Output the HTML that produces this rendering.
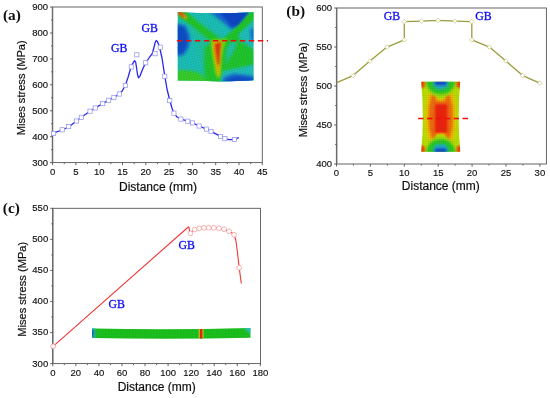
<!DOCTYPE html>
<html><head><meta charset="utf-8"><title>Mises stress</title>
<style>
html,body{margin:0;padding:0;background:#fff;}
svg{display:block}
.t{font-family:"Liberation Sans",sans-serif;font-size:9.5px;fill:#111;stroke:#111;stroke-width:0.15px}
.l{font-family:"Liberation Sans",sans-serif;font-size:12px;fill:#111;stroke:#111;stroke-width:0.2px}
.p{font-family:"Liberation Serif",serif;font-size:15.3px;font-weight:bold;fill:#111}
.g{font-family:"Liberation Serif",serif;font-size:11.8px;fill:#0c0cf4;stroke:#0c0cf4;stroke-width:0.3px}
.ly{font-size:11.1px}
</style></head><body>
<svg width="550" height="398" viewBox="0 0 550 398">
<defs>
<filter id="b1" x="-20%" y="-20%" width="140%" height="140%"><feGaussianBlur stdDeviation="1.6"/></filter>
<filter id="b2" x="-20%" y="-20%" width="140%" height="140%"><feGaussianBlur stdDeviation="0.9"/></filter>
<filter id="b3" x="-20%" y="-20%" width="140%" height="140%"><feGaussianBlur stdDeviation="2.4"/></filter>
<filter id="soft"><feGaussianBlur stdDeviation="0.35"/></filter>
<clipPath id="ca"><path d="M177.8 12 Q215 14.4 253.4 12.2 L253.4 80.2 Q238 81.2 220 81.4 Q198 80.6 177.8 80.6 Z"/></clipPath>
<clipPath id="cb"><path d="M421.3 81.8 L460.2 81.8 Q457.2 117 460.2 151.7 L421.3 151.7 Q424.3 117 421.3 81.8 Z"/></clipPath>
<clipPath id="cc"><path d="M92 328.6 Q170 330.2 250.4 328.1 L250.4 337.7 Q170 339.8 92 338 Z"/></clipPath>
<pattern id="mesh" width="1.6" height="1.6" patternUnits="userSpaceOnUse" patternTransform="rotate(8)"><path d="M0 0H1.6M0 0V1.6" stroke="#0a5a3a" stroke-width="0.35" fill="none"/></pattern>
<pattern id="mesh2" width="2.2" height="2.2" patternUnits="userSpaceOnUse" x="421.3" y="81.8"><path d="M0 0H2.2M0 0V2.2" stroke="#7a5a10" stroke-width="0.4" fill="none"/></pattern>
<pattern id="mesh3" width="1.5" height="1.5" patternUnits="userSpaceOnUse"><path d="M0 0H1.5M0 0V1.5" stroke="#0a6a1a" stroke-width="0.35" fill="none"/></pattern>
</defs>
<rect width="550" height="398" fill="#fff"/>

<!-- panel a -->
<g filter="url(#soft)">
<rect x="52.6" y="7" width="209.7" height="155.6" fill="none" stroke="#555" stroke-width="0.9"/>
<path d="M52.5 7V162.6" fill="none" stroke="#6c6c6c" stroke-width="1.4"/>
<path d="M52.6 162.6v2.6M75.9 162.6v2.6M99.2 162.6v2.6M122.5 162.6v2.6M145.8 162.6v2.6M169.1 162.6v2.6M192.4 162.6v2.6M215.7 162.6v2.6M239 162.6v2.6M262.3 162.6v2.6M64.25 162.6v1.5M87.55 162.6v1.5M110.85 162.6v1.5M134.15 162.6v1.5M157.45 162.6v1.5M180.75 162.6v1.5M204.05 162.6v1.5M227.35 162.6v1.5M250.65 162.6v1.5M52.6 162.6h-2.6M52.6 136.68h-2.6M52.6 110.76h-2.6M52.6 84.84h-2.6M52.6 58.92h-2.6M52.6 33h-2.6M52.6 7.08h-2.6M52.6 149.64h-1.5M52.6 123.72h-1.5M52.6 97.8h-1.5M52.6 71.88h-1.5M52.6 45.96h-1.5M52.6 20.04h-1.5" stroke="#555" stroke-width="0.9" fill="none"/>
<text class="t" transform="translate(52.6 174.9) scale(1 1)" text-anchor="middle">0</text>
<text class="t" transform="translate(75.9 174.9) scale(1 1)" text-anchor="middle">5</text>
<text class="t" transform="translate(99.2 174.9) scale(1 1)" text-anchor="middle">10</text>
<text class="t" transform="translate(122.5 174.9) scale(1 1)" text-anchor="middle">15</text>
<text class="t" transform="translate(145.8 174.9) scale(1 1)" text-anchor="middle">20</text>
<text class="t" transform="translate(169.1 174.9) scale(1 1)" text-anchor="middle">25</text>
<text class="t" transform="translate(192.4 174.9) scale(1 1)" text-anchor="middle">30</text>
<text class="t" transform="translate(215.7 174.9) scale(1 1)" text-anchor="middle">35</text>
<text class="t" transform="translate(239 174.9) scale(1 1)" text-anchor="middle">40</text>
<text class="t" transform="translate(262.3 174.9) scale(1 1)" text-anchor="middle">45</text>
<text class="t" transform="translate(48 165.5) scale(1 1)" text-anchor="end">300</text>
<text class="t" transform="translate(48 139.58) scale(1 1)" text-anchor="end">400</text>
<text class="t" transform="translate(48 113.66) scale(1 1)" text-anchor="end">500</text>
<text class="t" transform="translate(48 87.74) scale(1 1)" text-anchor="end">600</text>
<text class="t" transform="translate(48 61.82) scale(1 1)" text-anchor="end">700</text>
<text class="t" transform="translate(48 35.9) scale(1 1)" text-anchor="end">800</text>
<text class="t" transform="translate(48 9.98) scale(1 1)" text-anchor="end">900</text>
<text class="l" transform="translate(158 190.5) scale(1 1)" text-anchor="middle">Distance (mm)</text>
<text class="l ly" transform="translate(24.5 87.75) scale(1 1) rotate(-90)" text-anchor="middle">Mises stress (MPa)</text>
<text class="p" transform="translate(3 20) scale(1 1)">(a)</text>
</g>
<g clip-path="url(#ca)">
<rect x="176" y="10" width="80" height="74" fill="#20c8a8"/>
<g filter="url(#b1)">
<path d="M175.91 9.91L183.55 9.91L202.64 26.14L219.82 39.5L225.55 39.5L238.91 27.09L256.09 9.91L256.09 23.27L245.59 30.91L249.41 46.18L256.09 51.91L256.09 65.27L237 69.09L223.64 71L221.73 84.37L205.5 84.37L204.16 65.27L204.55 48.09L211.23 41.41L193.09 26.14L175.91 13.73Z" fill="#22cc2c"/>
<path d="M175.91 70.05L189.27 70.05L200.73 73.86L209.32 84.37L175.91 84.37Z" fill="#3ad428"/>
<path d="M231.27 53.82L242.73 49.05L256.09 49.05L256.09 63.36L240.82 65.27L229.36 65.27Z" fill="#22cc2c"/>
</g>
<g filter="url(#b1)">
<path d="M185.45 9.91L258 9.91L250.37 15.64L238.91 28.05L231.27 32.82L222.68 36.64L215.05 30.91L204.55 23.27Z" fill="#1ec4c0"/>
<path d="M175.91 17.55L189.27 25.18L195.95 38.55L198.82 53.82L202.64 71L189.27 69.09L175.91 69.09Z" fill="#1ec4c0"/>
<path d="M237.96 33.77L256.09 17.55L256.09 49.05L249.41 46.18L240.82 41.41Z" fill="#20c4c4"/>
<path d="M222.68 71.96L237 68.71L256.09 64.32L256.09 84.37L219.82 84.37Z" fill="#20c4c4"/>
<path d="M226.5 49.05L231.27 42.36L237 40.46L235.09 49.05L229.36 57.64L225.55 65.27Z" fill="#22c8b0"/>
</g>
<g filter="url(#b1)">
<path d="M207.41 10.86L250.37 10.86L247.5 16.59L239.86 26.14L231.27 29.38L224.02 23.27L215.05 16.02Z" fill="#1464dc"/>
<path d="M175.91 23.27L185.45 25.18L190.23 36.64L188.51 48.09L183.55 55.35L175.91 56.68Z" fill="#1464dc"/>
<path d="M221.73 84.37L224.02 77.11L233.18 73.86L244.64 74.82L256.09 76.73L256.09 84.37Z" fill="#1464dc"/>
<path d="M249.98 29.38L256.09 27.09L256.09 41.41L250.75 40.07Z" fill="#1470dc"/>
</g>
<g filter="url(#b2)">
<path d="M218.86 11.82L248.46 11.82L244.64 17.55L237.96 25.18L231.85 26.71L227.07 20.6Z" fill="#0c40d0"/>
<path d="M176.67 26.14L183.93 27.47L187.36 36.64L185.84 47.14L181.64 53.06L176.67 53.82Z" fill="#0c48d0"/>
<path d="M226.5 83.41L228.41 79.02L237 76.73L250.37 78.26L255.14 83.41Z" fill="#0c48d0"/>
</g>
<g filter="url(#b2)">
<path d="M176.29 10.29L182.78 10.29L198.82 24.04L220.77 40.07L216 42.75L195.38 27.09L176.29 14.87Z" fill="#24cc24"/>
<path d="M256.09 10.29L251.89 10.29L238.91 24.8L224.02 38.55L228.41 41.98L240.82 30.53L256.09 15.64Z" fill="#24cc24"/>
<path d="M210.66 40.07L227.07 38.93L224.02 46.18L221.73 57.64L220.77 73.86L218.29 79.02L215.05 72.91L212.18 55.73Z" fill="#86e000"/>
</g>
<g filter="url(#b2)">
<path d="M212.18 41.98L221.73 40.46L220.96 49.05L220.2 65.27L219.44 77.87L217.53 73.86L214.28 58.02Z" fill="#f4b400"/>
<path d="M177.82 11.44L181.64 11.44L188.13 17.55L185.45 19.45L177.82 14.11Z" fill="#f0a010"/>
</g>
<g filter="url(#b2)" >
<path d="M214.86 44.27L220.96 41.98L219.82 52.29L219.06 66.23L217.72 63.75L216 54.2Z" fill="#f02c0c"/>
<path d="M177.82 11.44L180.49 11.44L184.69 15.64L182.78 16.78L177.82 12.96Z" fill="#f03808"/>
</g>
<rect x="176" y="10" width="80" height="74" fill="url(#mesh)" opacity="0.55"/>
</g>
<path d="M176.9 40.8 H268" stroke="#f60808" stroke-width="1.5" stroke-dasharray="5.4 3.6" fill="none"/>
<path d="M52.6 133.4 L62 130 L68.7 127 L76.5 121 L81.3 117.3 L90 111.2 L95.2 108 L102.7 103.6 L108.7 100.3 L113.9 97.4 L119.3 94 L122.5 90.5 L125.3 85.4 L128 77.5 L131 67 L133.2 62.6 L134.6 60.6 L135.8 62.8 L136.8 69.5 L137.6 75 L138.5 77.8 L139.8 76.5 L142.5 69.5 L145.5 63 L149 58 L152.3 53.5 L153.8 48 L155.2 42.5 L156.2 40.5 L157.4 41.5 L159.4 46.5 L162 58 L164.8 76.2 L167 89 L169.7 100 L171.8 107.5 L173.9 113.2 L177 117 L180.9 119.1 L187.8 121.2 L192.5 122.9 L199.1 126 L206.4 129.1 L211 131.4 L220.6 136.4 L224.9 138.7 L229 139.7 L234.5 139.5 L238.8 137.6" fill="none" stroke="#2828f0" stroke-width="1.3" stroke-linejoin="round"/>
<g fill="#fff" stroke="#8f8ff0" stroke-width="0.7">
<rect x="51.5" y="131.3" width="4.2" height="4.2"/>
<rect x="60.1" y="127.7" width="4.2" height="4.2"/>
<rect x="66.6" y="124.5" width="4.2" height="4.2"/>
<rect x="74.4" y="118.9" width="4.2" height="4.2"/>
<rect x="79.2" y="115.2" width="4.2" height="4.2"/>
<rect x="87.9" y="109.1" width="4.2" height="4.2"/>
<rect x="93.1" y="105.9" width="4.2" height="4.2"/>
<rect x="100.6" y="101.5" width="4.2" height="4.2"/>
<rect x="106.6" y="98.2" width="4.2" height="4.2"/>
<rect x="111.8" y="95.3" width="4.2" height="4.2"/>
<rect x="117.2" y="91.9" width="4.2" height="4.2"/>
<rect x="123.2" y="83.3" width="4.2" height="4.2"/>
<rect x="129.2" y="64.8" width="4.2" height="4.2"/>
<rect x="134.7" y="52.7" width="4.2" height="4.2"/>
<rect x="143.6" y="60.7" width="4.2" height="4.2"/>
<rect x="152.9" y="51.6" width="4.2" height="4.2"/>
<rect x="158.1" y="45.1" width="4.2" height="4.2"/>
<rect x="162.7" y="74.1" width="4.2" height="4.2"/>
<rect x="167.6" y="98.5" width="4.2" height="4.2"/>
<rect x="171.8" y="111.1" width="4.2" height="4.2"/>
<rect x="178.8" y="117" width="4.2" height="4.2"/>
<rect x="185.7" y="119.1" width="4.2" height="4.2"/>
<rect x="190.4" y="120.8" width="4.2" height="4.2"/>
<rect x="197" y="123.9" width="4.2" height="4.2"/>
<rect x="204.3" y="127" width="4.2" height="4.2"/>
<rect x="208.9" y="129.3" width="4.2" height="4.2"/>
<rect x="218.5" y="134.3" width="4.2" height="4.2"/>
<rect x="222.8" y="136.6" width="4.2" height="4.2"/>
<rect x="232.4" y="137.4" width="4.2" height="4.2"/>
</g>
<text class="g" transform="translate(111 52.4) scale(1 1)">GB</text>
<text class="g" transform="translate(141.4 31.7) scale(1 1)">GB</text>
<!-- panel b -->
<g filter="url(#soft)">
<rect x="336.7" y="8" width="209.7" height="156" fill="none" stroke="#555" stroke-width="0.9"/>
<path d="M336.6 8V164" fill="none" stroke="#6c6c6c" stroke-width="1.4"/>
<path d="M336.5 164v2.6M370.4 164v2.6M404.3 164v2.6M438.2 164v2.6M472.1 164v2.6M506 164v2.6M539.9 164v2.6M353.45 164v1.5M387.35 164v1.5M421.25 164v1.5M455.15 164v1.5M489.05 164v1.5M522.95 164v1.5M336.7 164h-2.6M336.7 125h-2.6M336.7 86h-2.6M336.7 47h-2.6M336.7 8h-2.6M336.7 144.5h-1.5M336.7 105.5h-1.5M336.7 66.5h-1.5M336.7 27.5h-1.5" stroke="#555" stroke-width="0.9" fill="none"/>
<text class="t" transform="translate(336.5 176.3) scale(1 1)" text-anchor="middle">0</text>
<text class="t" transform="translate(370.4 176.3) scale(1 1)" text-anchor="middle">5</text>
<text class="t" transform="translate(404.3 176.3) scale(1 1)" text-anchor="middle">10</text>
<text class="t" transform="translate(438.2 176.3) scale(1 1)" text-anchor="middle">15</text>
<text class="t" transform="translate(472.1 176.3) scale(1 1)" text-anchor="middle">20</text>
<text class="t" transform="translate(506 176.3) scale(1 1)" text-anchor="middle">25</text>
<text class="t" transform="translate(539.9 176.3) scale(1 1)" text-anchor="middle">30</text>
<text class="t" transform="translate(332.1 166.9) scale(1 1)" text-anchor="end">400</text>
<text class="t" transform="translate(332.1 127.9) scale(1 1)" text-anchor="end">450</text>
<text class="t" transform="translate(332.1 88.9) scale(1 1)" text-anchor="end">500</text>
<text class="t" transform="translate(332.1 49.9) scale(1 1)" text-anchor="end">550</text>
<text class="t" transform="translate(332.1 10.9) scale(1 1)" text-anchor="end">600</text>
<text class="l" transform="translate(440.8 189.8) scale(1 1)" text-anchor="middle">Distance (mm)</text>
<text class="l ly" transform="translate(307.3 89.8) scale(1 1) rotate(-90)" text-anchor="middle">Mises stress (MPa)</text>
<text class="p" transform="translate(286.3 15.9) scale(1 1)">(b)</text>
</g>
<path d="M336.8 82.7 L353.1 75.6 L369.9 61.1 L387 47.1 L404.3 39.9 L404.3 21.6 L421.5 21.1 L438 20.4 L455 21.1 L471.8 21.6 L471.8 39.9 L489.4 47.1 L505.9 61.1 L522.7 75.6 L539.8 83.2" fill="none" stroke="#9c9c3c" stroke-width="1.3" stroke-linejoin="round"/>
<g fill="#fff" stroke="#c4c480" stroke-width="0.7">
<path d="M350.8 75.6L353.1 73.3L355.4 75.6L353.1 77.9Z"/>
<path d="M367.6 61.1L369.9 58.8L372.2 61.1L369.9 63.4Z"/>
<path d="M384.7 47.1L387 44.8L389.3 47.1L387 49.4Z"/>
<path d="M402 39.9L404.3 37.6L406.6 39.9L404.3 42.2Z"/>
<path d="M402 21.6L404.3 19.3L406.6 21.6L404.3 23.9Z"/>
<path d="M419.2 21.1L421.5 18.8L423.8 21.1L421.5 23.4Z"/>
<path d="M435.7 20.4L438 18.1L440.3 20.4L438 22.7Z"/>
<path d="M452.7 21.1L455 18.8L457.3 21.1L455 23.4Z"/>
<path d="M469.5 21.6L471.8 19.3L474.1 21.6L471.8 23.9Z"/>
<path d="M469.5 39.9L471.8 37.6L474.1 39.9L471.8 42.2Z"/>
<path d="M487.1 47.1L489.4 44.8L491.7 47.1L489.4 49.4Z"/>
<path d="M503.6 61.1L505.9 58.8L508.2 61.1L505.9 63.4Z"/>
<path d="M520.4 75.6L522.7 73.3L525 75.6L522.7 77.9Z"/>
<path d="M537.5 83.2L539.8 80.9L542.1 83.2L539.8 85.5Z"/>
</g>
<text class="g" transform="translate(383.8 19.8) scale(1 1)">GB</text>
<text class="g" transform="translate(475.2 19.8) scale(1 1)">GB</text>
<g clip-path="url(#cb)">
<rect x="420" y="80" width="42" height="74" fill="#b6e400"/>
<g filter="url(#b2)">
<path d="M425.4 116.75L425.8 104L428.5 92L431.5 88L434 91L436 98L440.75 99.5L440.75 99.5L445.5 98L447.5 91L450 88L453 92L455.7 104L456.1 116.75L456.1 116.75L455.7 129.5L453 141.5L450 145.5L447.5 142.5L445.5 135.5L440.75 134L440.75 134L436 135.5L434 142.5L431.5 145.5L428.5 141.5L425.8 129.5L425.4 116.75Z" fill="#f2c400"/>
</g>
<g filter="url(#b2)">
<path d="M428.6 116.75L429.1 106.1L431.6 95.6L434.6 92.6L436.6 100.6L440.75 101.4L440.75 101.4L444.9 100.6L446.9 92.6L449.9 95.6L452.4 106.1L452.9 116.75L452.9 116.75L452.4 127.4L449.9 137.9L446.9 140.9L444.9 132.9L440.75 132.1L440.75 132.1L436.6 132.9L434.6 140.9L431.6 137.9L429.1 127.4L428.6 116.75Z" fill="#f26a0a"/>
</g>
<g filter="url(#b2)">
<path d="M424.6 80L456.9 80L455.2 87.5L451.8 93L446.5 96.6L440.75 97.6L435 96.6L429.7 93L426.3 87.5Z" fill="#a0e008"/>
<path d="M425.6 80L455.9 80L454 87L450.5 91.6L446 94L440.75 94.6L435.5 94L431 91.6L427.5 87Z" fill="#22cc24"/>
<path d="M424.6 153.5L456.9 153.5L455.2 146L451.8 140.5L446.5 136.9L440.75 135.9L435 136.9L429.7 140.5L426.3 146Z" fill="#a0e008"/>
<path d="M425.6 153.5L455.9 153.5L454 146.5L450.5 141.9L446 139.5L440.75 138.9L435.5 139.5L431 141.9L427.5 146.5Z" fill="#22cc24"/>
<rect x="435" y="104.2" width="12.2" height="28.6" fill="#f01a0a"/>
</g>
<g filter="url(#b2)">
<path d="M432.6 80L448.9 80L447.6 87L444 89.6L437.5 89.6L433.9 87Z" fill="#18b0c8"/>
<path d="M434.4 80L447.1 80L446.2 85.6L435.3 85.6Z" fill="#1048dc"/>
<path d="M420 80L425 80L424.6 87L420 89Z" fill="#f03c10"/>
<path d="M462 80L456.5 80L456.9 87L462 89Z" fill="#f03c10"/>
<path d="M432.6 153.5L448.9 153.5L447.6 146.5L444 143.9L437.5 143.9L433.9 146.5Z" fill="#18b0c8"/>
<path d="M434.4 153.5L447.1 153.5L446.2 147.9L435.3 147.9Z" fill="#1048dc"/>
<path d="M420 153.5L425 153.5L424.6 146.5L420 144.5Z" fill="#f03c10"/>
<path d="M462 153.5L456.5 153.5L456.9 146.5L462 144.5Z" fill="#f03c10"/>
</g>
<rect x="420" y="80" width="42" height="74" fill="url(#mesh2)" opacity="0.5"/>
</g>
<path d="M418.1 118.5 H468" stroke="#f60808" stroke-width="1.5" stroke-dasharray="5.4 3.5" fill="none"/>
<!-- panel c -->
<g filter="url(#soft)">
<rect x="52.8" y="208.3" width="207.7" height="155.3" fill="none" stroke="#555" stroke-width="0.9"/>
<path d="M52.7 208.3V363.6" fill="none" stroke="#6c6c6c" stroke-width="1.4"/>
<path d="M52.8 363.6v2.6M75.86 363.6v2.6M98.92 363.6v2.6M121.98 363.6v2.6M145.04 363.6v2.6M168.1 363.6v2.6M191.16 363.6v2.6M214.22 363.6v2.6M237.28 363.6v2.6M260.34 363.6v2.6M64.33 363.6v1.5M87.39 363.6v1.5M110.45 363.6v1.5M133.51 363.6v1.5M156.57 363.6v1.5M179.63 363.6v1.5M202.69 363.6v1.5M225.75 363.6v1.5M248.81 363.6v1.5M52.8 363.6h-2.6M52.8 332.54h-2.6M52.8 301.48h-2.6M52.8 270.42h-2.6M52.8 239.36h-2.6M52.8 208.3h-2.6M52.8 348.07h-1.5M52.8 317.01h-1.5M52.8 285.95h-1.5M52.8 254.89h-1.5M52.8 223.83h-1.5" stroke="#555" stroke-width="0.9" fill="none"/>
<text class="t" transform="translate(52.8 375.9) scale(1 1)" text-anchor="middle">0</text>
<text class="t" transform="translate(75.86 375.9) scale(1 1)" text-anchor="middle">20</text>
<text class="t" transform="translate(98.92 375.9) scale(1 1)" text-anchor="middle">40</text>
<text class="t" transform="translate(121.98 375.9) scale(1 1)" text-anchor="middle">60</text>
<text class="t" transform="translate(145.04 375.9) scale(1 1)" text-anchor="middle">80</text>
<text class="t" transform="translate(168.1 375.9) scale(1 1)" text-anchor="middle">100</text>
<text class="t" transform="translate(191.16 375.9) scale(1 1)" text-anchor="middle">120</text>
<text class="t" transform="translate(214.22 375.9) scale(1 1)" text-anchor="middle">140</text>
<text class="t" transform="translate(237.28 375.9) scale(1 1)" text-anchor="middle">160</text>
<text class="t" transform="translate(260.34 375.9) scale(1 1)" text-anchor="middle">180</text>
<text class="t" transform="translate(48.2 366.5) scale(1 1)" text-anchor="end">300</text>
<text class="t" transform="translate(48.2 335.44) scale(1 1)" text-anchor="end">350</text>
<text class="t" transform="translate(48.2 304.38) scale(1 1)" text-anchor="end">400</text>
<text class="t" transform="translate(48.2 273.32) scale(1 1)" text-anchor="end">450</text>
<text class="t" transform="translate(48.2 242.26) scale(1 1)" text-anchor="end">500</text>
<text class="t" transform="translate(48.2 211.2) scale(1 1)" text-anchor="end">550</text>
<text class="l" transform="translate(156.7 390.6) scale(1 1)" text-anchor="middle">Distance (mm)</text>
<text class="l ly" transform="translate(26 289.3) scale(1 1) rotate(-90)" text-anchor="middle">Mises stress (MPa)</text>
<text class="p" transform="translate(2.8 212.6) scale(1 1)">(c)</text>
</g>
<path d="M53.4 346.1 L188.3 227 L189 227.3 L189.8 232.5 L190.6 233.2 L192.5 231 L194.7 229.5 L199.3 228.3 L203.9 227.8 L208.7 227.7 L213.8 227.8 L218.9 228.3 L224 229.2 L229 231.3 L232 233 L234.1 234.8 L235.8 240 L237.3 251 L239.2 267.7 L241.3 283.5" fill="none" stroke="#f03434" stroke-width="1.1" stroke-linejoin="round"/>
<g fill="#fff" stroke="#f49090" stroke-width="0.7">
<circle cx="53.2" cy="346.3" r="2.4"/>
<circle cx="190.4" cy="233.4" r="2.4"/>
<circle cx="194.7" cy="229.5" r="2.4"/>
<circle cx="199.3" cy="228.3" r="2.4"/>
<circle cx="203.9" cy="227.8" r="2.4"/>
<circle cx="208.7" cy="227.7" r="2.4"/>
<circle cx="213.8" cy="227.8" r="2.4"/>
<circle cx="218.9" cy="228.3" r="2.4"/>
<circle cx="224" cy="229.2" r="2.4"/>
<circle cx="229" cy="231.3" r="2.4"/>
<circle cx="234.1" cy="234.8" r="2.4"/>
<circle cx="239.2" cy="267.7" r="2.4"/>
</g>
<text class="g" transform="translate(178.4 248.6) scale(1 1)">GB</text>
<text class="g" transform="translate(108.4 308) scale(1 1)">GB</text>
<g clip-path="url(#cc)">
<rect x="90" y="326" width="162" height="16" fill="#1cc41c"/>
<g filter="url(#b2)">
<rect x="89" y="326" width="6.5" height="16" fill="#20b8a8"/>
<rect x="89" y="329.6" width="4.2" height="7.2" fill="#1030d0"/>
<path d="M241 326 L252 326 L252 335 Z" fill="#30c4c4"/>
</g>
<g filter="url(#soft)">
<rect x="198.6" y="326" width="5" height="16" fill="#d8c818"/>
<rect x="199.9" y="326" width="2.5" height="16" fill="#ec2410"/>
</g>
<rect x="90" y="326" width="162" height="16" fill="url(#mesh3)" opacity="0.45"/>
</g>

</svg>
</body></html>
